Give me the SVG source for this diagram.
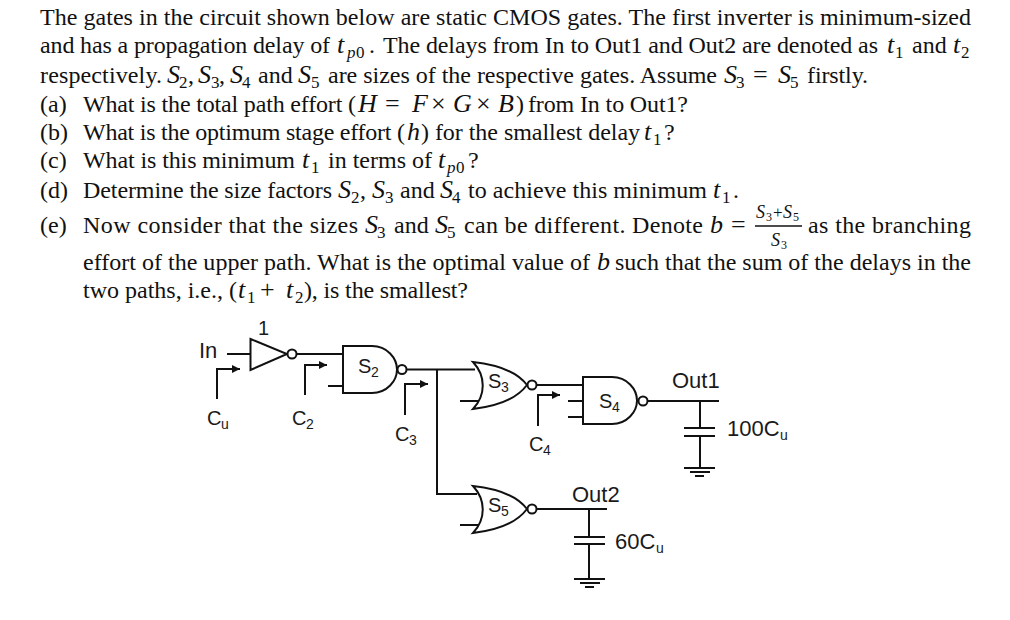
<svg xmlns="http://www.w3.org/2000/svg" width="1010" height="620" viewBox="0 0 1010 620">
<style>
.t{font-family:"Liberation Serif","Times New Roman",serif;font-size:24px;fill:#111}
.m{font-family:"Liberation Serif","Times New Roman",serif;font-size:26px;font-style:italic;fill:#111}
.n{font-family:"Liberation Serif","Times New Roman",serif;font-size:26px;fill:#111}
.s{font-family:"Liberation Serif","Times New Roman",serif;font-size:17px;fill:#111}
.si{font-family:"Liberation Serif","Times New Roman",serif;font-size:17px;font-style:italic;fill:#111}
.f{font-family:"Liberation Serif","Times New Roman",serif;font-size:18px;font-style:italic;fill:#111}
.f2{font-family:"Liberation Serif","Times New Roman",serif;font-size:12px;fill:#111}
.fp{font-family:"Liberation Serif","Times New Roman",serif;font-size:17px;fill:#111}
.l{font-family:"Liberation Sans",Arial,sans-serif;font-size:20px;fill:#1a1a1a}
.b{font-family:"Liberation Sans",Arial,sans-serif;font-size:22px;fill:#1a1a1a}
.ls{font-family:"Liberation Sans",Arial,sans-serif;font-size:14px;fill:#1a1a1a}
.w{fill:none;stroke:#111;stroke-width:2}
.g{fill:#fff;stroke:#111;stroke-width:2}
</style>
<defs>
<marker id="a" markerUnits="userSpaceOnUse" markerWidth="9" markerHeight="9" refX="8" refY="4.500" orient="auto"><path d="M0 0.500L8 4.500L0 8.500Z" fill="#111"/></marker>
<path id="nand" d="M0 0H29C44 0 54 12 54 23.500C54 35 44 47 29 47H0Z"/>
<path id="nor" d="M0 0C27 3 45 11 54 23C45 35 27 44 0 47C13 33 13 14 0 0Z"/>
</defs>
<rect width="1010" height="620" fill="#fff"/>

<g id="question">
<text class="t" x="40" y="25" textLength="931">The gates in the circuit shown below are static CMOS gates. The first inverter is minimum-sized</text>

<text class="t" x="40" y="53" textLength="290">and has a propagation delay of</text>
<text class="m" x="337" y="53">t</text><text class="si" x="347" y="58">p</text><text class="s" x="356" y="58">0</text><text class="t" x="369" y="53">.</text>
<text class="t" x="383" y="53" textLength="495">The delays from In to Out1 and Out2 are denoted as</text>
<text class="m" x="887" y="53">t</text><text class="s" x="895" y="58">1</text>
<text class="t" x="912" y="53">and</text>
<text class="m" x="953" y="53">t</text><text class="s" x="961" y="58">2</text>

<text class="t" x="40" y="83" textLength="122">respectively.</text>
<text class="m" x="167" y="83">S</text><text class="s" x="179" y="88">2</text><text class="t" x="188" y="83">,</text>
<text class="m" x="198" y="83">S</text><text class="s" x="211" y="88">3</text><text class="t" x="219" y="83">,</text>
<text class="m" x="230" y="83">S</text><text class="s" x="242" y="88">4</text>
<text class="t" x="258" y="83">and</text>
<text class="m" x="298" y="83">S</text><text class="s" x="311" y="88">5</text>
<text class="t" x="328" y="83" textLength="389">are sizes of the respective gates. Assume</text>
<text class="m" x="724" y="83">S</text><text class="s" x="736" y="88">3</text>
<text class="n" x="753" y="83">=</text>
<text class="m" x="778" y="83">S</text><text class="s" x="790" y="88">5</text>
<text class="t" x="807" y="83" textLength="61">firstly.</text>

<text class="t" x="40" y="112">(a)</text>
<text class="t" x="83" y="112" textLength="273">What is the total path effort (</text>
<text class="m" x="358" y="112">H</text><text class="n" x="385" y="112">=</text><text class="m" x="412" y="112">F</text><text class="n" x="431" y="112">×</text><text class="m" x="453" y="112">G</text><text class="n" x="476" y="112">×</text><text class="m" x="498" y="112">B</text>
<text class="t" x="516" y="112">)</text>
<text class="t" x="528" y="112" textLength="160">from In to Out1?</text>

<text class="t" x="40" y="140">(b)</text>
<text class="t" x="83" y="140" textLength="322">What is the optimum stage effort (</text>
<text class="m" x="407" y="140">h</text>
<text class="t" x="421" y="140" textLength="219">) for the smallest delay</text>
<text class="m" x="644" y="140">t</text><text class="s" x="653" y="145">1</text><text class="t" x="664" y="140">?</text>

<text class="t" x="40" y="168">(c)</text>
<text class="t" x="83" y="168" textLength="212">What is this minimum</text>
<text class="m" x="302" y="168">t</text><text class="s" x="311" y="173">1</text>
<text class="t" x="328" y="168" textLength="104">in terms of</text>
<text class="m" x="438" y="168">t</text><text class="si" x="447" y="173">p</text><text class="s" x="456" y="173">0</text><text class="t" x="468" y="168">?</text>

<text class="t" x="40" y="198">(d)</text>
<text class="t" x="83" y="198" textLength="249">Determine the size factors</text>
<text class="m" x="338" y="198">S</text><text class="s" x="351" y="203">2</text><text class="t" x="360" y="198">,</text>
<text class="m" x="372" y="198">S</text><text class="s" x="385" y="203">3</text>
<text class="t" x="400" y="198">and</text>
<text class="m" x="440" y="198">S</text><text class="s" x="452" y="203">4</text>
<text class="t" x="468" y="198" textLength="239">to achieve this minimum</text>
<text class="m" x="713" y="198">t</text><text class="s" x="722" y="203">1</text><text class="t" x="733" y="198">.</text>

<text class="t" x="40" y="233">(e)</text>
<text class="t" x="83" y="233" textLength="275">Now consider that the sizes</text>
<text class="m" x="365" y="233">S</text><text class="s" x="377" y="238">3</text>
<text class="t" x="394" y="233">and</text>
<text class="m" x="435" y="233">S</text><text class="s" x="447" y="238">5</text>
<text class="t" x="464" y="233" textLength="239">can be different. Denote</text>
<text class="m" x="710" y="233">b</text>
<text class="n" x="731" y="233">=</text>
<text class="f" x="756" y="218">S</text><text class="f2" x="766" y="221">3</text><text class="fp" x="773" y="218">+</text><text class="f" x="783" y="218">S</text><text class="f2" x="793" y="221">5</text>
<line x1="755" y1="226" x2="802" y2="226" stroke="#111" stroke-width="1.500"/>
<text class="f" x="771" y="246">S</text><text class="f2" x="781" y="249">3</text>
<text class="t" x="808" y="233" textLength="163">as the branching</text>

<text class="t" x="83" y="270" textLength="507">effort of the upper path. What is the optimal value of</text>
<text class="m" x="597" y="270">b</text>
<text class="t" x="615" y="270" textLength="356">such that the sum of the delays in the</text>

<text class="t" x="83" y="298" textLength="154">two paths, i.e., (</text>
<text class="m" x="238" y="298">t</text><text class="s" x="247" y="303">1</text><text class="n" x="260" y="298">+</text><text class="m" x="286" y="298">t</text><text class="s" x="295" y="303">2</text>
<text class="t" x="304" y="298" textLength="164">), is the smallest?</text>
</g>

<g id="connectors">
<path class="w" d="M227 354H250M297 354H343M328 386H343M407 369.500H475M437 369.500V494H477M460 401H479M460 525H479M537 385H583M568 401H583M568 417H583M648 401H719M700 401V428M700 436V468M537 509H607M589 509V537M589 544V579"/>
<path class="w" d="M684 428H715M684 436H715M684 468H715M690 472H710M695 476H704"/>
<path class="w" d="M574 537H605M574 544H605M574 579H605M580 583H600M585 587H594"/>
<path class="w" marker-end="url(#a)" d="M217 399V369H240"/>
<path class="w" marker-end="url(#a)" d="M305 395V365H327"/>
<path class="w" marker-end="url(#a)" d="M405 415V384H428"/>
<path class="w" marker-end="url(#a)" d="M538 426V395H560"/>
</g>

<g id="inv1">
<path class="g" d="M250.500 339L287 354L250.500 370Z"/><circle class="g" cx="292" cy="354" r="4.500"/>
<text class="b" x="199" y="358">In</text><text class="l" x="258" y="335">1</text>
</g>
<g id="s2">
<use href="#nand" class="g" x="343" y="346"/><circle class="g" cx="402" cy="369.500" r="4.500"/>
<text class="l" x="358" y="373">S</text><text class="ls" x="371" y="377">2</text>
</g>
<g id="s3">
<use href="#nor" class="g" x="473" y="362"/><circle class="g" cx="532" cy="385" r="4.500"/>
<text class="l" x="488" y="388">S</text><text class="ls" x="501" y="392">3</text>
</g>
<g id="s4">
<use href="#nand" class="g" x="583" y="377"/><circle class="g" cx="643" cy="401" r="4.500"/>
<text class="l" x="599" y="408">S</text><text class="ls" x="612" y="412">4</text>
</g>
<g id="s5">
<use href="#nor" class="g" x="473" y="486"/><circle class="g" cx="532" cy="509" r="4.500"/>
<text class="l" x="488" y="512">S</text><text class="ls" x="501" y="516">5</text>
</g>

<g id="labels">
<text class="l" x="207" y="425">C</text><text class="ls" x="221" y="429">u</text>
<text class="l" x="292" y="425">C</text><text class="ls" x="306" y="429">2</text>
<text class="l" x="395" y="441">C</text><text class="ls" x="409" y="445">3</text>
<text class="l" x="529" y="451">C</text><text class="ls" x="543" y="455">4</text>
<text class="b" x="672" y="388">Out1</text>
<text class="b" x="727" y="436">100C</text><text class="ls" x="780" y="440">u</text>
<text class="b" x="572" y="502">Out2</text>
<text class="b" x="615" y="549">60C</text><text class="ls" x="656" y="553">u</text>
</g>
</svg>
